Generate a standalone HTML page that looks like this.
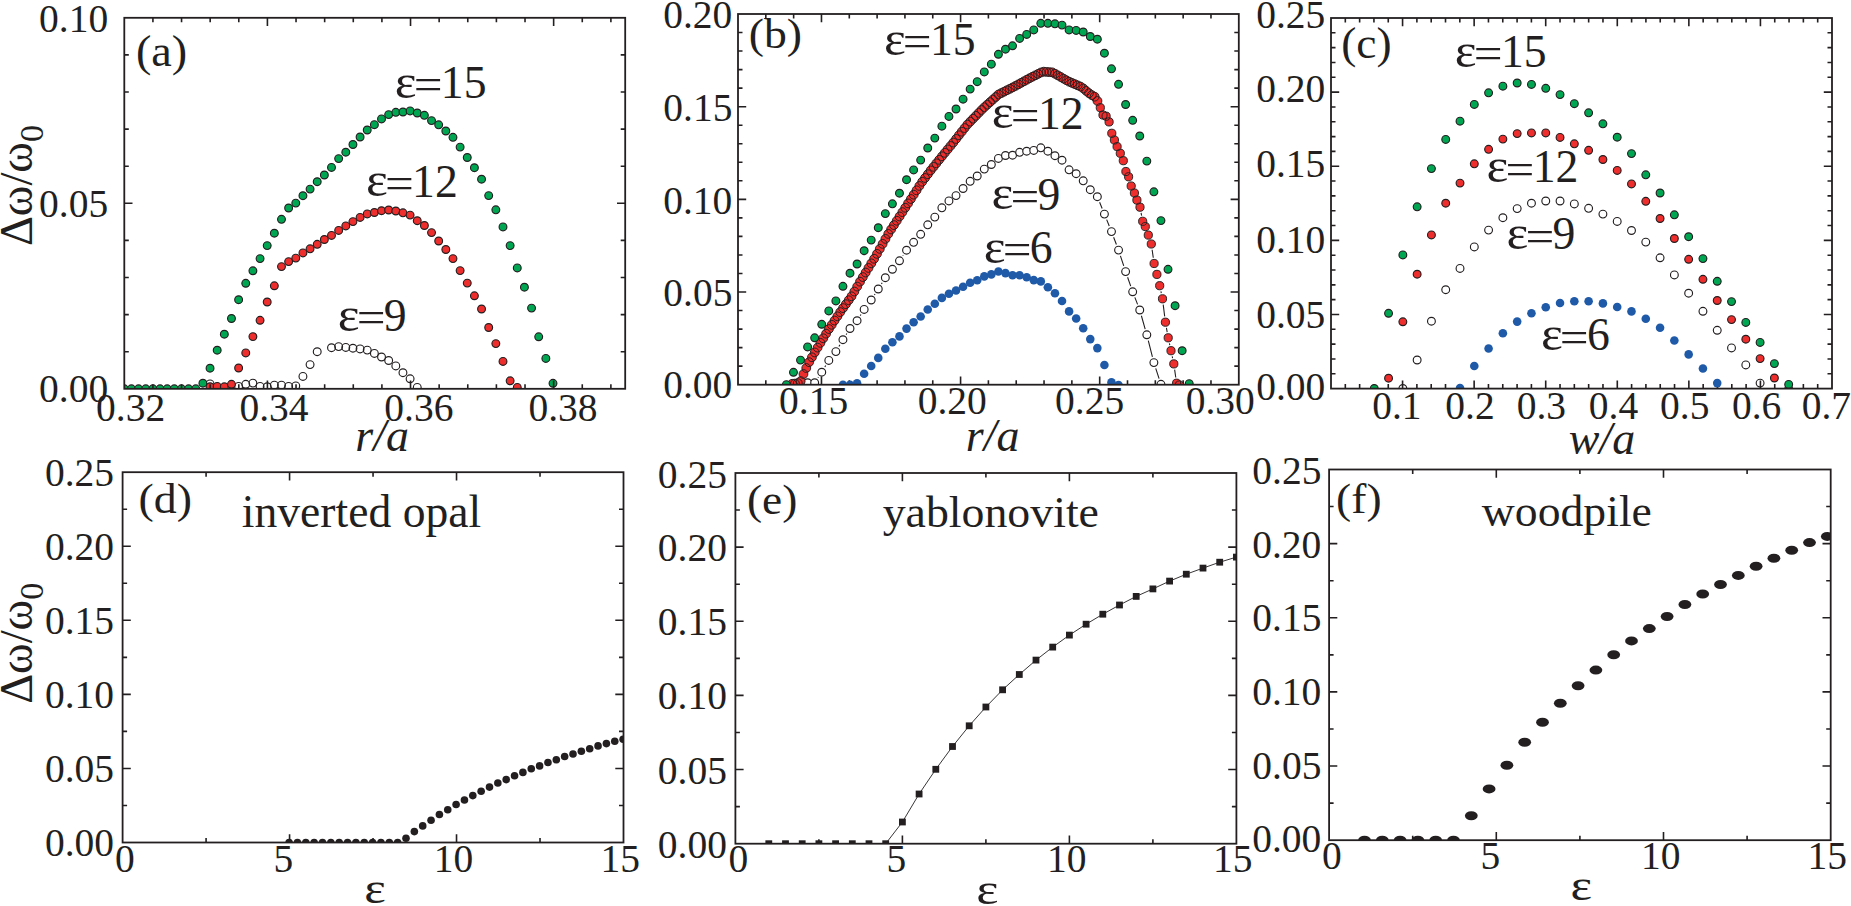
<!DOCTYPE html>
<html><head><meta charset="utf-8"><title>Figure</title>
<style>html,body{margin:0;padding:0;background:#fff;}svg{display:block;}</style></head>
<body><svg width="1851" height="906" viewBox="0 0 1851 906">
<rect width="1851" height="906" fill="#fff"/>
<clipPath id="ca"><rect x="124.3" y="17.8" width="500.90000000000003" height="371.0"/></clipPath>
<g clip-path="url(#ca)" fill="none" stroke="#231f20" stroke-width="1.15">
<circle cx="210.04" cy="383.9" r="3.9"/>
<circle cx="238.62" cy="386.4" r="3.9"/>
<circle cx="245.76" cy="384.3" r="3.9"/>
<circle cx="252.91" cy="383.1" r="3.9"/>
<circle cx="260.06" cy="386.4" r="3.9"/>
<circle cx="267.2" cy="386.7" r="3.9"/>
<circle cx="274.34" cy="385.1" r="3.9"/>
<circle cx="281.49" cy="385.1" r="3.9"/>
<circle cx="288.63" cy="386.4" r="3.9"/>
<circle cx="295.78" cy="385.9" r="3.9"/>
<circle cx="302.93" cy="376.4" r="3.9"/>
<circle cx="310.07" cy="364.6" r="3.9"/>
<circle cx="317.21" cy="351.7" r="3.9"/>
<circle cx="331.5" cy="347.7" r="3.9"/>
<circle cx="338.65" cy="346.6" r="3.9"/>
<circle cx="345.79" cy="347.4" r="3.9"/>
<circle cx="352.94" cy="348.2" r="3.9"/>
<circle cx="360.08" cy="348.9" r="3.9"/>
<circle cx="367.23" cy="350.1" r="3.9"/>
<circle cx="374.38" cy="353.4" r="3.9"/>
<circle cx="381.52" cy="357" r="3.9"/>
<circle cx="388.67" cy="360.5" r="3.9"/>
<circle cx="395.81" cy="365.9" r="3.9"/>
<circle cx="402.95" cy="372.7" r="3.9"/>
<circle cx="410.1" cy="378.8" r="3.9"/>
<circle cx="417.25" cy="387.4" r="3.9"/>
</g>
<g clip-path="url(#ca)" fill="#ee2d2d" stroke="#231f20" stroke-width="1.15">
<circle cx="210.04" cy="386.7" r="3.9"/>
<circle cx="217.19" cy="386.4" r="3.9"/>
<circle cx="224.33" cy="386.8" r="3.9"/>
<circle cx="231.47" cy="384.3" r="3.9"/>
<circle cx="238.62" cy="368" r="3.9"/>
<circle cx="245.76" cy="352.9" r="3.9"/>
<circle cx="252.91" cy="336.6" r="3.9"/>
<circle cx="260.06" cy="320.3" r="3.9"/>
<circle cx="267.2" cy="302" r="3.9"/>
<circle cx="274.34" cy="285.8" r="3.9"/>
<circle cx="281.49" cy="266.6" r="3.9"/>
<circle cx="288.63" cy="261.6" r="3.9"/>
<circle cx="295.78" cy="258.1" r="3.9"/>
<circle cx="302.93" cy="252.9" r="3.9"/>
<circle cx="310.07" cy="248.8" r="3.9"/>
<circle cx="317.21" cy="244.3" r="3.9"/>
<circle cx="324.36" cy="239.5" r="3.9"/>
<circle cx="331.5" cy="235.4" r="3.9"/>
<circle cx="338.65" cy="230.4" r="3.9"/>
<circle cx="345.79" cy="225.9" r="3.9"/>
<circle cx="352.94" cy="221.6" r="3.9"/>
<circle cx="360.08" cy="217.4" r="3.9"/>
<circle cx="367.23" cy="213.9" r="3.9"/>
<circle cx="374.38" cy="212.5" r="3.9"/>
<circle cx="381.52" cy="210.7" r="3.9"/>
<circle cx="388.67" cy="210" r="3.9"/>
<circle cx="395.81" cy="211" r="3.9"/>
<circle cx="402.95" cy="212.8" r="3.9"/>
<circle cx="410.1" cy="215.1" r="3.9"/>
<circle cx="417.25" cy="220.7" r="3.9"/>
<circle cx="424.39" cy="225.5" r="3.9"/>
<circle cx="431.53" cy="232.6" r="3.9"/>
<circle cx="438.68" cy="241" r="3.9"/>
<circle cx="445.82" cy="249.5" r="3.9"/>
<circle cx="452.97" cy="258.6" r="3.9"/>
<circle cx="460.12" cy="270.6" r="3.9"/>
<circle cx="467.26" cy="283.1" r="3.9"/>
<circle cx="474.4" cy="295.8" r="3.9"/>
<circle cx="481.55" cy="309" r="3.9"/>
<circle cx="488.69" cy="327.5" r="3.9"/>
<circle cx="495.84" cy="343.6" r="3.9"/>
<circle cx="502.99" cy="361.4" r="3.9"/>
<circle cx="510.13" cy="380.8" r="3.9"/>
<circle cx="517.27" cy="387.4" r="3.9"/>
</g>
<g clip-path="url(#ca)" fill="#00a651" stroke="#231f20" stroke-width="1.15">
<circle cx="124.3" cy="388.8" r="3.9"/>
<circle cx="131.44" cy="388.8" r="3.9"/>
<circle cx="138.59" cy="388.8" r="3.9"/>
<circle cx="145.73" cy="388.8" r="3.9"/>
<circle cx="152.88" cy="388.8" r="3.9"/>
<circle cx="160.02" cy="388.8" r="3.9"/>
<circle cx="167.17" cy="388.8" r="3.9"/>
<circle cx="174.31" cy="388.8" r="3.9"/>
<circle cx="181.46" cy="388.8" r="3.9"/>
<circle cx="188.6" cy="388.8" r="3.9"/>
<circle cx="195.75" cy="388.8" r="3.9"/>
<circle cx="202.89" cy="383.2" r="3.9"/>
<circle cx="210.04" cy="368.2" r="3.9"/>
<circle cx="217.19" cy="350.2" r="3.9"/>
<circle cx="224.33" cy="334.2" r="3.9"/>
<circle cx="231.47" cy="318.5" r="3.9"/>
<circle cx="238.62" cy="299.7" r="3.9"/>
<circle cx="245.76" cy="283.3" r="3.9"/>
<circle cx="252.91" cy="270.8" r="3.9"/>
<circle cx="260.06" cy="258.6" r="3.9"/>
<circle cx="267.2" cy="245.6" r="3.9"/>
<circle cx="274.34" cy="233.2" r="3.9"/>
<circle cx="281.49" cy="219.3" r="3.9"/>
<circle cx="288.63" cy="208" r="3.9"/>
<circle cx="295.78" cy="203.1" r="3.9"/>
<circle cx="302.93" cy="195.7" r="3.9"/>
<circle cx="310.07" cy="189.1" r="3.9"/>
<circle cx="317.21" cy="181.7" r="3.9"/>
<circle cx="324.36" cy="175" r="3.9"/>
<circle cx="331.5" cy="167.4" r="3.9"/>
<circle cx="338.65" cy="158.6" r="3.9"/>
<circle cx="345.79" cy="152.2" r="3.9"/>
<circle cx="352.94" cy="144.5" r="3.9"/>
<circle cx="360.08" cy="137" r="3.9"/>
<circle cx="367.23" cy="130" r="3.9"/>
<circle cx="374.38" cy="124.7" r="3.9"/>
<circle cx="381.52" cy="118.9" r="3.9"/>
<circle cx="388.67" cy="114.6" r="3.9"/>
<circle cx="395.81" cy="112.3" r="3.9"/>
<circle cx="402.95" cy="112" r="3.9"/>
<circle cx="410.1" cy="110.9" r="3.9"/>
<circle cx="417.25" cy="113" r="3.9"/>
<circle cx="424.39" cy="115.3" r="3.9"/>
<circle cx="431.53" cy="120.6" r="3.9"/>
<circle cx="438.68" cy="124.8" r="3.9"/>
<circle cx="445.82" cy="131" r="3.9"/>
<circle cx="452.97" cy="137.3" r="3.9"/>
<circle cx="460.12" cy="147.1" r="3.9"/>
<circle cx="467.26" cy="157.5" r="3.9"/>
<circle cx="474.4" cy="167.7" r="3.9"/>
<circle cx="481.55" cy="179.2" r="3.9"/>
<circle cx="488.69" cy="195.6" r="3.9"/>
<circle cx="495.84" cy="209.8" r="3.9"/>
<circle cx="502.99" cy="226.9" r="3.9"/>
<circle cx="510.13" cy="245.6" r="3.9"/>
<circle cx="517.27" cy="267.9" r="3.9"/>
<circle cx="524.42" cy="287.2" r="3.9"/>
<circle cx="531.56" cy="308.1" r="3.9"/>
<circle cx="538.71" cy="336.8" r="3.9"/>
<circle cx="545.85" cy="358.4" r="3.9"/>
<circle cx="553" cy="383.3" r="3.9"/>
</g>
<path d="M267.41 388.8v-8.2M267.41 17.8v8.2M410.53 388.8v-8.2M410.53 17.8v8.2M553.64 388.8v-8.2M553.64 17.8v8.2M152.92 388.8v-4.5M152.92 17.8v4.5M181.55 388.8v-4.5M181.55 17.8v4.5M210.17 388.8v-4.5M210.17 17.8v4.5M238.79 388.8v-4.5M238.79 17.8v4.5M267.41 388.8v-8.2M267.41 17.8v8.2M296.04 388.8v-4.5M296.04 17.8v4.5M324.66 388.8v-4.5M324.66 17.8v4.5M353.28 388.8v-4.5M353.28 17.8v4.5M381.91 388.8v-4.5M381.91 17.8v4.5M410.53 388.8v-8.2M410.53 17.8v8.2M439.15 388.8v-4.5M439.15 17.8v4.5M467.77 388.8v-4.5M467.77 17.8v4.5M496.4 388.8v-4.5M496.4 17.8v4.5M525.02 388.8v-4.5M525.02 17.8v4.5M553.64 388.8v-8.2M553.64 17.8v8.2M582.27 388.8v-4.5M582.27 17.8v4.5M610.89 388.8v-4.5M610.89 17.8v4.5M124.3 203.3h8.2M625.2 203.3h-8.2M124.3 351.7h4.5M625.2 351.7h-4.5M124.3 314.6h4.5M625.2 314.6h-4.5M124.3 277.5h4.5M625.2 277.5h-4.5M124.3 240.4h4.5M625.2 240.4h-4.5M124.3 203.3h8.2M625.2 203.3h-8.2M124.3 166.2h4.5M625.2 166.2h-4.5M124.3 129.1h4.5M625.2 129.1h-4.5M124.3 92h4.5M625.2 92h-4.5M124.3 54.9h4.5M625.2 54.9h-4.5" stroke="#231f20" stroke-width="1.6" fill="none"/>
<rect x="124.3" y="17.8" width="500.90000000000003" height="371.0" stroke="#231f20" stroke-width="1.8" fill="none"/>
<text x="39.04" y="32.15" style="font-family:'Liberation Serif', 'Times New Roman', serif;font-size:39.5px;" fill="#231f20" >0.10</text>
<text x="39.06" y="216.6" style="font-family:'Liberation Serif', 'Times New Roman', serif;font-size:39.5px;" fill="#231f20" >0.05</text>
<text x="39.04" y="401.55" style="font-family:'Liberation Serif', 'Times New Roman', serif;font-size:39.5px;" fill="#231f20" >0.00</text>
<text x="96.08" y="421.05" style="font-family:'Liberation Serif', 'Times New Roman', serif;font-size:39.5px;" fill="#231f20" >0.32</text>
<text x="239.49" y="421.05" style="font-family:'Liberation Serif', 'Times New Roman', serif;font-size:39.5px;" fill="#231f20" >0.34</text>
<text x="384.37" y="421.05" style="font-family:'Liberation Serif', 'Times New Roman', serif;font-size:39.5px;" fill="#231f20" >0.36</text>
<text x="528.44" y="421.05" style="font-family:'Liberation Serif', 'Times New Roman', serif;font-size:39.5px;" fill="#231f20" >0.38</text>
<text x="355.29" y="450.83" style="font-family:'Liberation Serif', 'Times New Roman', serif;font-size:46px;font-style:italic;" fill="#231f20" >r/a</text>
<text transform="translate(31.9,246.07) rotate(-90)" style="font-family:'Liberation Serif', 'Times New Roman', serif;font-size:46.5px" fill="#231f20">Δω/ω<tspan style="font-size:34px" dy="11">0</tspan></text>
<text transform="translate(135.92,66.27) scale(1.0117,0.9484)" style="font-family:'Liberation Serif', 'Times New Roman', serif;font-size:45.7px;" fill="#231f20">(a)</text>
<text transform="translate(394.7,97.52) scale(1.049,1)" style="font-family:'Liberation Serif', 'Times New Roman', serif;font-size:49.48px" fill="#231f20">ε</text>
<text transform="translate(413.65,100.27) scale(1.119,1)" style="font-family:'Liberation Serif', 'Times New Roman', serif;font-size:45.7px" fill="#231f20">=</text>
<text x="440.8" y="98" style="font-family:'Liberation Serif', 'Times New Roman', serif;font-size:45.7px" fill="#231f20">15</text>
<text transform="translate(366,196.02) scale(1.049,1)" style="font-family:'Liberation Serif', 'Times New Roman', serif;font-size:49.48px" fill="#231f20">ε</text>
<text transform="translate(384.95,198.77) scale(1.119,1)" style="font-family:'Liberation Serif', 'Times New Roman', serif;font-size:45.7px" fill="#231f20">=</text>
<text x="412.1" y="196.5" style="font-family:'Liberation Serif', 'Times New Roman', serif;font-size:45.7px" fill="#231f20">12</text>
<text transform="translate(337.7,330.52) scale(1.049,1)" style="font-family:'Liberation Serif', 'Times New Roman', serif;font-size:49.48px" fill="#231f20">ε</text>
<text transform="translate(356.65,333.27) scale(1.119,1)" style="font-family:'Liberation Serif', 'Times New Roman', serif;font-size:45.7px" fill="#231f20">=</text>
<text x="383.8" y="331" style="font-family:'Liberation Serif', 'Times New Roman', serif;font-size:45.7px" fill="#231f20">9</text>
<clipPath id="cb"><rect x="738.0" y="14.0" width="500.79999999999995" height="370.7"/></clipPath>
<path d="M821.47 384.7v-8.2M821.47 14v8.2M960.58 384.7v-8.2M960.58 14v8.2M1099.69 384.7v-8.2M1099.69 14v8.2M765.82 384.7v-4.5M765.82 14v4.5M793.64 384.7v-4.5M793.64 14v4.5M821.47 384.7v-8.2M821.47 14v8.2M849.29 384.7v-4.5M849.29 14v4.5M877.11 384.7v-4.5M877.11 14v4.5M904.93 384.7v-4.5M904.93 14v4.5M932.76 384.7v-4.5M932.76 14v4.5M960.58 384.7v-8.2M960.58 14v8.2M988.4 384.7v-4.5M988.4 14v4.5M1016.22 384.7v-4.5M1016.22 14v4.5M1044.04 384.7v-4.5M1044.04 14v4.5M1071.87 384.7v-4.5M1071.87 14v4.5M1099.69 384.7v-8.2M1099.69 14v8.2M1127.51 384.7v-4.5M1127.51 14v4.5M1155.33 384.7v-4.5M1155.33 14v4.5M1183.16 384.7v-4.5M1183.16 14v4.5M1210.98 384.7v-4.5M1210.98 14v4.5M738 292.02h8.2M1238.8 292.02h-8.2M738 199.35h8.2M1238.8 199.35h-8.2M738 106.68h8.2M1238.8 106.68h-8.2M738 366.16h4.5M1238.8 366.16h-4.5M738 347.63h4.5M1238.8 347.63h-4.5M738 329.09h4.5M1238.8 329.09h-4.5M738 310.56h4.5M1238.8 310.56h-4.5M738 292.02h8.2M1238.8 292.02h-8.2M738 273.49h4.5M1238.8 273.49h-4.5M738 254.95h4.5M1238.8 254.95h-4.5M738 236.42h4.5M1238.8 236.42h-4.5M738 217.89h4.5M1238.8 217.89h-4.5M738 199.35h8.2M1238.8 199.35h-8.2M738 180.82h4.5M1238.8 180.82h-4.5M738 162.28h4.5M1238.8 162.28h-4.5M738 143.74h4.5M1238.8 143.74h-4.5M738 125.21h4.5M1238.8 125.21h-4.5M738 106.68h8.2M1238.8 106.68h-8.2M738 88.14h4.5M1238.8 88.14h-4.5M738 69.61h4.5M1238.8 69.61h-4.5M738 51.07h4.5M1238.8 51.07h-4.5M738 32.54h4.5M1238.8 32.54h-4.5" stroke="#231f20" stroke-width="1.6" fill="none"/>
<path clip-path="url(#cb)" d="M818.02 377.72L818.38 377.18M824.82 367.05L825.72 365.55M838.93 346.44L839.87 344.86M846.14 334.63L846.8 333.57M860.25 315.61L860.96 314.49M874.45 294.95L875.03 294.05M881.45 283.91L882.16 282.79M902.8 255.81L903.21 255.19M1099.61 202.26L1102.16 208.54M1106.66 219.66L1109.24 226.04M1113.62 237.2L1116.41 244.5M1120.42 255.8L1123.74 265.9M1127.6 277.26L1130.7 286.14M1134.85 297.39L1137.58 304.41M1141.39 315.77L1145.17 329.03M1148.3 340.62L1152.41 356.78M1155.74 368.31L1159.09 378.59" fill="none" stroke="#231f20" stroke-width="1.1"/>
<g clip-path="url(#cb)" fill="#fff" stroke="#231f20" stroke-width="1.15">
<circle cx="807.6" cy="382.7" r="3.9"/>
<circle cx="814.67" cy="382.7" r="3.9"/>
<circle cx="821.74" cy="372.2" r="3.9"/>
<circle cx="828.8" cy="360.4" r="3.9"/>
<circle cx="835.87" cy="351.6" r="3.9"/>
<circle cx="842.94" cy="339.7" r="3.9"/>
<circle cx="850" cy="328.5" r="3.9"/>
<circle cx="857.07" cy="320.7" r="3.9"/>
<circle cx="864.14" cy="309.4" r="3.9"/>
<circle cx="871.2" cy="300" r="3.9"/>
<circle cx="878.27" cy="289" r="3.9"/>
<circle cx="885.34" cy="277.7" r="3.9"/>
<circle cx="892.4" cy="269.3" r="3.9"/>
<circle cx="899.47" cy="260.8" r="3.9"/>
<circle cx="906.54" cy="250.2" r="3.9"/>
<circle cx="913.61" cy="242.3" r="3.9"/>
<circle cx="920.67" cy="234.3" r="3.9"/>
<circle cx="927.74" cy="224.8" r="3.9"/>
<circle cx="934.81" cy="217.1" r="3.9"/>
<circle cx="941.87" cy="207.8" r="3.9"/>
<circle cx="948.94" cy="200.9" r="3.9"/>
<circle cx="956.01" cy="195.6" r="3.9"/>
<circle cx="963.08" cy="188.5" r="3.9"/>
<circle cx="970.14" cy="181.3" r="3.9"/>
<circle cx="977.21" cy="176" r="3.9"/>
<circle cx="984.28" cy="169.1" r="3.9"/>
<circle cx="991.34" cy="164.5" r="3.9"/>
<circle cx="998.41" cy="158.4" r="3.9"/>
<circle cx="1005.48" cy="155.5" r="3.9"/>
<circle cx="1012.54" cy="155.2" r="3.9"/>
<circle cx="1019.61" cy="152.3" r="3.9"/>
<circle cx="1026.68" cy="151.2" r="3.9"/>
<circle cx="1033.74" cy="150.4" r="3.9"/>
<circle cx="1040.81" cy="147.8" r="3.9"/>
<circle cx="1047.88" cy="151.2" r="3.9"/>
<circle cx="1054.95" cy="155.7" r="3.9"/>
<circle cx="1062.01" cy="160.2" r="3.9"/>
<circle cx="1069.08" cy="169.8" r="3.9"/>
<circle cx="1076.15" cy="173.7" r="3.9"/>
<circle cx="1083.21" cy="180.8" r="3.9"/>
<circle cx="1090.28" cy="189.7" r="3.9"/>
<circle cx="1097.35" cy="196.7" r="3.9"/>
<circle cx="1104.41" cy="214.1" r="3.9"/>
<circle cx="1111.48" cy="231.6" r="3.9"/>
<circle cx="1118.55" cy="250.1" r="3.9"/>
<circle cx="1125.62" cy="271.6" r="3.9"/>
<circle cx="1132.68" cy="291.8" r="3.9"/>
<circle cx="1139.75" cy="310" r="3.9"/>
<circle cx="1146.82" cy="334.8" r="3.9"/>
<circle cx="1153.88" cy="362.6" r="3.9"/>
<circle cx="1160.95" cy="384.3" r="3.9"/>
</g>
<g clip-path="url(#cb)" fill="#1f5aa8">
<circle cx="842.94" cy="384.7" r="4.3"/>
<circle cx="850" cy="384.8" r="4.3"/>
<circle cx="857.07" cy="383.3" r="4.3"/>
<circle cx="864.14" cy="373.8" r="4.3"/>
<circle cx="871.2" cy="366" r="4.3"/>
<circle cx="878.27" cy="357.9" r="4.3"/>
<circle cx="885.34" cy="348.8" r="4.3"/>
<circle cx="892.4" cy="342.3" r="4.3"/>
<circle cx="899.47" cy="336.4" r="4.3"/>
<circle cx="906.54" cy="328.6" r="4.3"/>
<circle cx="913.61" cy="322.3" r="4.3"/>
<circle cx="920.67" cy="316.5" r="4.3"/>
<circle cx="927.74" cy="309.5" r="4.3"/>
<circle cx="934.81" cy="303.7" r="4.3"/>
<circle cx="941.87" cy="297.9" r="4.3"/>
<circle cx="948.94" cy="293.8" r="4.3"/>
<circle cx="956.01" cy="290.5" r="4.3"/>
<circle cx="963.08" cy="286.7" r="4.3"/>
<circle cx="970.14" cy="282.7" r="4.3"/>
<circle cx="977.21" cy="280.2" r="4.3"/>
<circle cx="984.28" cy="276.4" r="4.3"/>
<circle cx="991.34" cy="274.4" r="4.3"/>
<circle cx="998.41" cy="271.5" r="4.3"/>
<circle cx="1005.48" cy="273.1" r="4.3"/>
<circle cx="1012.54" cy="275.3" r="4.3"/>
<circle cx="1019.61" cy="275.3" r="4.3"/>
<circle cx="1026.68" cy="277.3" r="4.3"/>
<circle cx="1033.74" cy="280.1" r="4.3"/>
<circle cx="1040.81" cy="281.4" r="4.3"/>
<circle cx="1047.88" cy="287.2" r="4.3"/>
<circle cx="1054.95" cy="293.3" r="4.3"/>
<circle cx="1062.01" cy="301" r="4.3"/>
<circle cx="1069.08" cy="311.4" r="4.3"/>
<circle cx="1076.15" cy="318.5" r="4.3"/>
<circle cx="1083.21" cy="328.2" r="4.3"/>
<circle cx="1090.28" cy="339.1" r="4.3"/>
<circle cx="1097.35" cy="348.1" r="4.3"/>
<circle cx="1104.41" cy="365" r="4.3"/>
<circle cx="1111.48" cy="382.4" r="4.3"/>
<circle cx="1118.55" cy="385" r="4.3"/>
</g>
<path clip-path="url(#cb)" d="M1141.09 212.9L1141.61 215.6M1152.12 249.74L1153.28 257.76M1160.91 291.37L1161.29 293.13M1163.21 304.56L1164.69 316.44M1166.42 327.91L1167.18 332.09M1169.43 343.47L1169.77 345.03M1172.2 356.37L1172.6 358.23M1174.63 369.64L1175.77 377.46" fill="none" stroke="#231f20" stroke-width="1.1"/>
<g clip-path="url(#cb)" fill="#ee2d2d">
<circle cx="792.16" cy="383.79" r="4.4"/>
<circle cx="794.98" cy="383.56" r="4.4"/>
<circle cx="797.81" cy="383.16" r="4.4"/>
<circle cx="800.64" cy="381.13" r="4.4"/>
<circle cx="803.47" cy="374.03" r="4.4"/>
<circle cx="806.29" cy="368.02" r="4.4"/>
<circle cx="809.12" cy="362.17" r="4.4"/>
<circle cx="811.95" cy="357.27" r="4.4"/>
<circle cx="814.77" cy="352.43" r="4.4"/>
<circle cx="817.6" cy="347.6" r="4.4"/>
<circle cx="820.43" cy="342.88" r="4.4"/>
<circle cx="823.25" cy="338.28" r="4.4"/>
<circle cx="826.08" cy="333.68" r="4.4"/>
<circle cx="828.91" cy="329.08" r="4.4"/>
<circle cx="831.74" cy="324.8" r="4.4"/>
<circle cx="834.56" cy="320.56" r="4.4"/>
<circle cx="837.39" cy="316.32" r="4.4"/>
<circle cx="840.22" cy="312.08" r="4.4"/>
<circle cx="843.04" cy="308.13" r="4.4"/>
<circle cx="845.87" cy="304.19" r="4.4"/>
<circle cx="848.7" cy="300.25" r="4.4"/>
<circle cx="851.52" cy="296.3" r="4.4"/>
<circle cx="854.35" cy="291.55" r="4.4"/>
<circle cx="857.18" cy="286.58" r="4.4"/>
<circle cx="860.01" cy="281.68" r="4.4"/>
<circle cx="862.83" cy="277.1" r="4.4"/>
<circle cx="865.66" cy="272.52" r="4.4"/>
<circle cx="868.49" cy="267.93" r="4.4"/>
<circle cx="871.31" cy="263.35" r="4.4"/>
<circle cx="874.14" cy="258.77" r="4.4"/>
<circle cx="876.97" cy="253.87" r="4.4"/>
<circle cx="879.79" cy="248.88" r="4.4"/>
<circle cx="882.62" cy="243.89" r="4.4"/>
<circle cx="885.45" cy="238.9" r="4.4"/>
<circle cx="888.28" cy="233.9" r="4.4"/>
<circle cx="891.1" cy="229.43" r="4.4"/>
<circle cx="893.93" cy="225.1" r="4.4"/>
<circle cx="896.76" cy="220.77" r="4.4"/>
<circle cx="899.58" cy="216.45" r="4.4"/>
<circle cx="902.41" cy="212.12" r="4.4"/>
<circle cx="905.24" cy="207.79" r="4.4"/>
<circle cx="908.06" cy="203.42" r="4.4"/>
<circle cx="910.89" cy="199.04" r="4.4"/>
<circle cx="913.72" cy="194.67" r="4.4"/>
<circle cx="916.55" cy="190.3" r="4.4"/>
<circle cx="919.37" cy="185.93" r="4.4"/>
<circle cx="922.2" cy="181.76" r="4.4"/>
<circle cx="925.03" cy="177.99" r="4.4"/>
<circle cx="927.85" cy="174.21" r="4.4"/>
<circle cx="930.68" cy="170.43" r="4.4"/>
<circle cx="933.51" cy="166.86" r="4.4"/>
<circle cx="936.33" cy="163.34" r="4.4"/>
<circle cx="939.16" cy="159.82" r="4.4"/>
<circle cx="941.99" cy="156.31" r="4.4"/>
<circle cx="944.82" cy="152.84" r="4.4"/>
<circle cx="947.64" cy="149.42" r="4.4"/>
<circle cx="950.47" cy="145.99" r="4.4"/>
<circle cx="953.3" cy="142.55" r="4.4"/>
<circle cx="956.12" cy="138.93" r="4.4"/>
<circle cx="958.95" cy="135.31" r="4.4"/>
<circle cx="961.78" cy="131.69" r="4.4"/>
<circle cx="964.6" cy="128.07" r="4.4"/>
<circle cx="967.43" cy="124.56" r="4.4"/>
<circle cx="970.26" cy="121.64" r="4.4"/>
<circle cx="973.09" cy="118.73" r="4.4"/>
<circle cx="975.91" cy="115.81" r="4.4"/>
<circle cx="978.74" cy="112.9" r="4.4"/>
<circle cx="981.57" cy="109.98" r="4.4"/>
<circle cx="984.39" cy="107.22" r="4.4"/>
<circle cx="987.22" cy="104.67" r="4.4"/>
<circle cx="990.05" cy="102.12" r="4.4"/>
<circle cx="992.87" cy="99.57" r="4.4"/>
<circle cx="995.7" cy="97.02" r="4.4"/>
<circle cx="998.53" cy="94.46" r="4.4"/>
<circle cx="1001.36" cy="93.03" r="4.4"/>
<circle cx="1004.18" cy="91.63" r="4.4"/>
<circle cx="1007.01" cy="90.22" r="4.4"/>
<circle cx="1009.84" cy="88.82" r="4.4"/>
<circle cx="1012.66" cy="87.41" r="4.4"/>
<circle cx="1015.49" cy="85.94" r="4.4"/>
<circle cx="1018.32" cy="84.39" r="4.4"/>
<circle cx="1021.14" cy="82.84" r="4.4"/>
<circle cx="1023.97" cy="81.29" r="4.4"/>
<circle cx="1026.8" cy="79.74" r="4.4"/>
<circle cx="1029.62" cy="78.19" r="4.4"/>
<circle cx="1032.45" cy="76.76" r="4.4"/>
<circle cx="1035.28" cy="75.34" r="4.4"/>
<circle cx="1038.11" cy="73.91" r="4.4"/>
<circle cx="1040.93" cy="72.49" r="4.4"/>
<circle cx="1043.76" cy="71.68" r="4.4"/>
<circle cx="1046.59" cy="71.91" r="4.4"/>
<circle cx="1049.41" cy="72.14" r="4.4"/>
<circle cx="1052.24" cy="72.36" r="4.4"/>
<circle cx="1055.07" cy="73.76" r="4.4"/>
<circle cx="1057.89" cy="75.38" r="4.4"/>
<circle cx="1060.72" cy="77.01" r="4.4"/>
<circle cx="1063.55" cy="78.63" r="4.4"/>
<circle cx="1066.38" cy="80.25" r="4.4"/>
<circle cx="1069.2" cy="81.73" r="4.4"/>
<circle cx="1072.03" cy="82.93" r="4.4"/>
<circle cx="1074.86" cy="84.14" r="4.4"/>
<circle cx="1077.68" cy="85.34" r="4.4"/>
<circle cx="1080.51" cy="86.55" r="4.4"/>
<circle cx="1083.34" cy="88.43" r="4.4"/>
<circle cx="1086.16" cy="90.87" r="4.4"/>
<circle cx="1088.99" cy="93.18" r="4.4"/>
<circle cx="1091.82" cy="95.15" r="4.4"/>
<circle cx="1094.65" cy="96.65" r="4.4"/>
<circle cx="1097.47" cy="100.95" r="4.4"/>
<circle cx="1100.3" cy="107.7" r="4.1"/>
<circle cx="1103" cy="115" r="4.1"/>
<circle cx="1106.1" cy="116.2" r="4.1"/>
<circle cx="1109.1" cy="121.9" r="4.1"/>
<circle cx="1111.8" cy="133.3" r="4.1"/>
<circle cx="1114.4" cy="140" r="4.1"/>
<circle cx="1117.1" cy="146.6" r="4.1"/>
<circle cx="1120.3" cy="153.3" r="4.1"/>
<circle cx="1123.3" cy="160.7" r="4.1"/>
<circle cx="1125.9" cy="171.5" r="4.1"/>
<circle cx="1128.6" cy="176.8" r="4.1"/>
<circle cx="1131.2" cy="186" r="4.1"/>
<circle cx="1134.4" cy="193" r="4.1"/>
<circle cx="1136.9" cy="200.1" r="4.1"/>
<circle cx="1140" cy="207.2" r="4.1"/>
<circle cx="1142.7" cy="221.3" r="4.1"/>
<circle cx="1145.3" cy="226.6" r="4.1"/>
<circle cx="1148.3" cy="235.1" r="4.1"/>
<circle cx="1151.3" cy="244" r="4.1"/>
<circle cx="1154.1" cy="263.5" r="4.1"/>
<circle cx="1156.9" cy="274.4" r="4.1"/>
<circle cx="1159.7" cy="285.7" r="4.1"/>
<circle cx="1162.5" cy="298.8" r="4.1"/>
<circle cx="1165.4" cy="322.2" r="4.1"/>
<circle cx="1168.2" cy="337.8" r="4.1"/>
<circle cx="1171" cy="350.7" r="4.1"/>
<circle cx="1173.8" cy="363.9" r="4.1"/>
<circle cx="1176.6" cy="383.2" r="4.1"/>
<circle cx="1179.4" cy="385" r="4.1"/>
</g>
<g clip-path="url(#cb)" fill="none" stroke="#231f20" stroke-width="0.95">
<circle cx="792.16" cy="383.79" r="4.4"/>
<circle cx="794.98" cy="383.56" r="4.4"/>
<circle cx="797.81" cy="383.16" r="4.4"/>
<circle cx="800.64" cy="381.13" r="4.4"/>
<circle cx="803.47" cy="374.03" r="4.4"/>
<circle cx="806.29" cy="368.02" r="4.4"/>
<circle cx="809.12" cy="362.17" r="4.4"/>
<circle cx="811.95" cy="357.27" r="4.4"/>
<circle cx="814.77" cy="352.43" r="4.4"/>
<circle cx="817.6" cy="347.6" r="4.4"/>
<circle cx="820.43" cy="342.88" r="4.4"/>
<circle cx="823.25" cy="338.28" r="4.4"/>
<circle cx="826.08" cy="333.68" r="4.4"/>
<circle cx="828.91" cy="329.08" r="4.4"/>
<circle cx="831.74" cy="324.8" r="4.4"/>
<circle cx="834.56" cy="320.56" r="4.4"/>
<circle cx="837.39" cy="316.32" r="4.4"/>
<circle cx="840.22" cy="312.08" r="4.4"/>
<circle cx="843.04" cy="308.13" r="4.4"/>
<circle cx="845.87" cy="304.19" r="4.4"/>
<circle cx="848.7" cy="300.25" r="4.4"/>
<circle cx="851.52" cy="296.3" r="4.4"/>
<circle cx="854.35" cy="291.55" r="4.4"/>
<circle cx="857.18" cy="286.58" r="4.4"/>
<circle cx="860.01" cy="281.68" r="4.4"/>
<circle cx="862.83" cy="277.1" r="4.4"/>
<circle cx="865.66" cy="272.52" r="4.4"/>
<circle cx="868.49" cy="267.93" r="4.4"/>
<circle cx="871.31" cy="263.35" r="4.4"/>
<circle cx="874.14" cy="258.77" r="4.4"/>
<circle cx="876.97" cy="253.87" r="4.4"/>
<circle cx="879.79" cy="248.88" r="4.4"/>
<circle cx="882.62" cy="243.89" r="4.4"/>
<circle cx="885.45" cy="238.9" r="4.4"/>
<circle cx="888.28" cy="233.9" r="4.4"/>
<circle cx="891.1" cy="229.43" r="4.4"/>
<circle cx="893.93" cy="225.1" r="4.4"/>
<circle cx="896.76" cy="220.77" r="4.4"/>
<circle cx="899.58" cy="216.45" r="4.4"/>
<circle cx="902.41" cy="212.12" r="4.4"/>
<circle cx="905.24" cy="207.79" r="4.4"/>
<circle cx="908.06" cy="203.42" r="4.4"/>
<circle cx="910.89" cy="199.04" r="4.4"/>
<circle cx="913.72" cy="194.67" r="4.4"/>
<circle cx="916.55" cy="190.3" r="4.4"/>
<circle cx="919.37" cy="185.93" r="4.4"/>
<circle cx="922.2" cy="181.76" r="4.4"/>
<circle cx="925.03" cy="177.99" r="4.4"/>
<circle cx="927.85" cy="174.21" r="4.4"/>
<circle cx="930.68" cy="170.43" r="4.4"/>
<circle cx="933.51" cy="166.86" r="4.4"/>
<circle cx="936.33" cy="163.34" r="4.4"/>
<circle cx="939.16" cy="159.82" r="4.4"/>
<circle cx="941.99" cy="156.31" r="4.4"/>
<circle cx="944.82" cy="152.84" r="4.4"/>
<circle cx="947.64" cy="149.42" r="4.4"/>
<circle cx="950.47" cy="145.99" r="4.4"/>
<circle cx="953.3" cy="142.55" r="4.4"/>
<circle cx="956.12" cy="138.93" r="4.4"/>
<circle cx="958.95" cy="135.31" r="4.4"/>
<circle cx="961.78" cy="131.69" r="4.4"/>
<circle cx="964.6" cy="128.07" r="4.4"/>
<circle cx="967.43" cy="124.56" r="4.4"/>
<circle cx="970.26" cy="121.64" r="4.4"/>
<circle cx="973.09" cy="118.73" r="4.4"/>
<circle cx="975.91" cy="115.81" r="4.4"/>
<circle cx="978.74" cy="112.9" r="4.4"/>
<circle cx="981.57" cy="109.98" r="4.4"/>
<circle cx="984.39" cy="107.22" r="4.4"/>
<circle cx="987.22" cy="104.67" r="4.4"/>
<circle cx="990.05" cy="102.12" r="4.4"/>
<circle cx="992.87" cy="99.57" r="4.4"/>
<circle cx="995.7" cy="97.02" r="4.4"/>
<circle cx="998.53" cy="94.46" r="4.4"/>
<circle cx="1001.36" cy="93.03" r="4.4"/>
<circle cx="1004.18" cy="91.63" r="4.4"/>
<circle cx="1007.01" cy="90.22" r="4.4"/>
<circle cx="1009.84" cy="88.82" r="4.4"/>
<circle cx="1012.66" cy="87.41" r="4.4"/>
<circle cx="1015.49" cy="85.94" r="4.4"/>
<circle cx="1018.32" cy="84.39" r="4.4"/>
<circle cx="1021.14" cy="82.84" r="4.4"/>
<circle cx="1023.97" cy="81.29" r="4.4"/>
<circle cx="1026.8" cy="79.74" r="4.4"/>
<circle cx="1029.62" cy="78.19" r="4.4"/>
<circle cx="1032.45" cy="76.76" r="4.4"/>
<circle cx="1035.28" cy="75.34" r="4.4"/>
<circle cx="1038.11" cy="73.91" r="4.4"/>
<circle cx="1040.93" cy="72.49" r="4.4"/>
<circle cx="1043.76" cy="71.68" r="4.4"/>
<circle cx="1046.59" cy="71.91" r="4.4"/>
<circle cx="1049.41" cy="72.14" r="4.4"/>
<circle cx="1052.24" cy="72.36" r="4.4"/>
<circle cx="1055.07" cy="73.76" r="4.4"/>
<circle cx="1057.89" cy="75.38" r="4.4"/>
<circle cx="1060.72" cy="77.01" r="4.4"/>
<circle cx="1063.55" cy="78.63" r="4.4"/>
<circle cx="1066.38" cy="80.25" r="4.4"/>
<circle cx="1069.2" cy="81.73" r="4.4"/>
<circle cx="1072.03" cy="82.93" r="4.4"/>
<circle cx="1074.86" cy="84.14" r="4.4"/>
<circle cx="1077.68" cy="85.34" r="4.4"/>
<circle cx="1080.51" cy="86.55" r="4.4"/>
<circle cx="1083.34" cy="88.43" r="4.4"/>
<circle cx="1086.16" cy="90.87" r="4.4"/>
<circle cx="1088.99" cy="93.18" r="4.4"/>
<circle cx="1091.82" cy="95.15" r="4.4"/>
<circle cx="1094.65" cy="96.65" r="4.4"/>
<circle cx="1097.47" cy="100.95" r="4.4"/>
<circle cx="1100.3" cy="107.7" r="4.1"/>
<circle cx="1103" cy="115" r="4.1"/>
<circle cx="1106.1" cy="116.2" r="4.1"/>
<circle cx="1109.1" cy="121.9" r="4.1"/>
<circle cx="1111.8" cy="133.3" r="4.1"/>
<circle cx="1114.4" cy="140" r="4.1"/>
<circle cx="1117.1" cy="146.6" r="4.1"/>
<circle cx="1120.3" cy="153.3" r="4.1"/>
<circle cx="1123.3" cy="160.7" r="4.1"/>
<circle cx="1125.9" cy="171.5" r="4.1"/>
<circle cx="1128.6" cy="176.8" r="4.1"/>
<circle cx="1131.2" cy="186" r="4.1"/>
<circle cx="1134.4" cy="193" r="4.1"/>
<circle cx="1136.9" cy="200.1" r="4.1"/>
<circle cx="1140" cy="207.2" r="4.1"/>
<circle cx="1142.7" cy="221.3" r="4.1"/>
<circle cx="1145.3" cy="226.6" r="4.1"/>
<circle cx="1148.3" cy="235.1" r="4.1"/>
<circle cx="1151.3" cy="244" r="4.1"/>
<circle cx="1154.1" cy="263.5" r="4.1"/>
<circle cx="1156.9" cy="274.4" r="4.1"/>
<circle cx="1159.7" cy="285.7" r="4.1"/>
<circle cx="1162.5" cy="298.8" r="4.1"/>
<circle cx="1165.4" cy="322.2" r="4.1"/>
<circle cx="1168.2" cy="337.8" r="4.1"/>
<circle cx="1171" cy="350.7" r="4.1"/>
<circle cx="1173.8" cy="363.9" r="4.1"/>
<circle cx="1176.6" cy="383.2" r="4.1"/>
<circle cx="1179.4" cy="385" r="4.1"/>
</g>
<g clip-path="url(#cb)" fill="#00a651" stroke="#231f20" stroke-width="1.15">
<circle cx="786.4" cy="384.6" r="3.9"/>
<circle cx="793.47" cy="372.3" r="3.9"/>
<circle cx="800.53" cy="360.1" r="3.9"/>
<circle cx="807.6" cy="346.9" r="3.9"/>
<circle cx="814.67" cy="337.8" r="3.9"/>
<circle cx="821.74" cy="324.3" r="3.9"/>
<circle cx="828.8" cy="310.9" r="3.9"/>
<circle cx="835.87" cy="300.9" r="3.9"/>
<circle cx="842.94" cy="286.3" r="3.9"/>
<circle cx="850" cy="273.2" r="3.9"/>
<circle cx="857.07" cy="264" r="3.9"/>
<circle cx="864.14" cy="250.7" r="3.9"/>
<circle cx="871.2" cy="240.1" r="3.9"/>
<circle cx="878.27" cy="227.7" r="3.9"/>
<circle cx="885.34" cy="213.6" r="3.9"/>
<circle cx="892.4" cy="203.8" r="3.9"/>
<circle cx="899.47" cy="193.2" r="3.9"/>
<circle cx="906.54" cy="179.7" r="3.9"/>
<circle cx="913.61" cy="169.9" r="3.9"/>
<circle cx="920.67" cy="160.1" r="3.9"/>
<circle cx="927.74" cy="148" r="3.9"/>
<circle cx="934.81" cy="138.1" r="3.9"/>
<circle cx="941.87" cy="126.2" r="3.9"/>
<circle cx="948.94" cy="116.4" r="3.9"/>
<circle cx="956.01" cy="109" r="3.9"/>
<circle cx="963.08" cy="99.2" r="3.9"/>
<circle cx="970.14" cy="89.1" r="3.9"/>
<circle cx="977.21" cy="81.7" r="3.9"/>
<circle cx="984.28" cy="71.9" r="3.9"/>
<circle cx="991.34" cy="64.2" r="3.9"/>
<circle cx="998.41" cy="54.3" r="3.9"/>
<circle cx="1005.48" cy="49.2" r="3.9"/>
<circle cx="1012.54" cy="45.8" r="3.9"/>
<circle cx="1019.61" cy="38.4" r="3.9"/>
<circle cx="1026.68" cy="34.4" r="3.9"/>
<circle cx="1033.74" cy="29.9" r="3.9"/>
<circle cx="1040.81" cy="23.3" r="3.9"/>
<circle cx="1047.88" cy="23.3" r="3.9"/>
<circle cx="1054.95" cy="23.8" r="3.9"/>
<circle cx="1062.01" cy="25.1" r="3.9"/>
<circle cx="1069.08" cy="29.9" r="3.9"/>
<circle cx="1076.15" cy="30.4" r="3.9"/>
<circle cx="1083.21" cy="32" r="3.9"/>
<circle cx="1090.28" cy="36.5" r="3.9"/>
<circle cx="1097.35" cy="39.2" r="3.9"/>
<circle cx="1104.41" cy="53.2" r="3.9"/>
<circle cx="1111.48" cy="68.8" r="3.9"/>
<circle cx="1118.55" cy="84.3" r="3.9"/>
<circle cx="1125.62" cy="104.5" r="3.9"/>
<circle cx="1132.68" cy="120.3" r="3.9"/>
<circle cx="1139.75" cy="136" r="3.9"/>
<circle cx="1146.82" cy="161.1" r="3.9"/>
<circle cx="1153.88" cy="191.8" r="3.9"/>
<circle cx="1160.95" cy="220.6" r="3.9"/>
<circle cx="1168.02" cy="269.3" r="3.9"/>
<circle cx="1175.09" cy="305.7" r="3.9"/>
<circle cx="1182.15" cy="350.7" r="3.9"/>
<circle cx="1189.22" cy="383.6" r="3.9"/>
</g>
<rect x="738.0" y="14.0" width="500.79999999999995" height="370.7" stroke="#231f20" stroke-width="1.8" fill="none"/>
<text x="663.24" y="28.25" style="font-family:'Liberation Serif', 'Times New Roman', serif;font-size:39.5px;" fill="#231f20" >0.20</text>
<text x="663.26" y="120.85" style="font-family:'Liberation Serif', 'Times New Roman', serif;font-size:39.5px;" fill="#231f20" >0.15</text>
<text x="663.24" y="213.75" style="font-family:'Liberation Serif', 'Times New Roman', serif;font-size:39.5px;" fill="#231f20" >0.10</text>
<text x="663.26" y="305.75" style="font-family:'Liberation Serif', 'Times New Roman', serif;font-size:39.5px;" fill="#231f20" >0.05</text>
<text x="663.24" y="397.85" style="font-family:'Liberation Serif', 'Times New Roman', serif;font-size:39.5px;" fill="#231f20" >0.00</text>
<text x="779.06" y="414.05" style="font-family:'Liberation Serif', 'Times New Roman', serif;font-size:39.5px;" fill="#231f20" >0.15</text>
<text x="917.74" y="414.05" style="font-family:'Liberation Serif', 'Times New Roman', serif;font-size:39.5px;" fill="#231f20" >0.20</text>
<text x="1055.06" y="414.05" style="font-family:'Liberation Serif', 'Times New Roman', serif;font-size:39.5px;" fill="#231f20" >0.25</text>
<text x="1185.64" y="414.05" style="font-family:'Liberation Serif', 'Times New Roman', serif;font-size:39.5px;" fill="#231f20" >0.30</text>
<text x="965.79" y="450.93" style="font-family:'Liberation Serif', 'Times New Roman', serif;font-size:46px;font-style:italic;" fill="#231f20" >r/a</text>
<text transform="translate(748.79,48.1) scale(1.0006,0.9460)" style="font-family:'Liberation Serif', 'Times New Roman', serif;font-size:45.7px;" fill="#231f20">(b)</text>
<text transform="translate(883.9,54.72) scale(1.049,1)" style="font-family:'Liberation Serif', 'Times New Roman', serif;font-size:49.48px" fill="#231f20">ε</text>
<text transform="translate(902.85,57.47) scale(1.119,1)" style="font-family:'Liberation Serif', 'Times New Roman', serif;font-size:45.7px" fill="#231f20">=</text>
<text x="930" y="55.2" style="font-family:'Liberation Serif', 'Times New Roman', serif;font-size:45.7px" fill="#231f20">15</text>
<text transform="translate(991.8,128.32) scale(1.049,1)" style="font-family:'Liberation Serif', 'Times New Roman', serif;font-size:49.48px" fill="#231f20">ε</text>
<text transform="translate(1010.75,131.07) scale(1.119,1)" style="font-family:'Liberation Serif', 'Times New Roman', serif;font-size:45.7px" fill="#231f20">=</text>
<text x="1037.9" y="128.8" style="font-family:'Liberation Serif', 'Times New Roman', serif;font-size:45.7px" fill="#231f20">12</text>
<text transform="translate(991.5,209.02) scale(1.049,1)" style="font-family:'Liberation Serif', 'Times New Roman', serif;font-size:49.48px" fill="#231f20">ε</text>
<text transform="translate(1010.45,211.77) scale(1.119,1)" style="font-family:'Liberation Serif', 'Times New Roman', serif;font-size:45.7px" fill="#231f20">=</text>
<text x="1037.6" y="209.5" style="font-family:'Liberation Serif', 'Times New Roman', serif;font-size:45.7px" fill="#231f20">9</text>
<text transform="translate(983.7,262.52) scale(1.049,1)" style="font-family:'Liberation Serif', 'Times New Roman', serif;font-size:49.48px" fill="#231f20">ε</text>
<text transform="translate(1002.65,265.27) scale(1.119,1)" style="font-family:'Liberation Serif', 'Times New Roman', serif;font-size:45.7px" fill="#231f20">=</text>
<text x="1029.8" y="263" style="font-family:'Liberation Serif', 'Times New Roman', serif;font-size:45.7px" fill="#231f20">6</text>
<clipPath id="cc"><rect x="1331.0" y="18.0" width="501.0" height="370.6"/></clipPath>
<path d="M1402.57 388.6v-8.2M1402.57 18v8.2M1474.14 388.6v-8.2M1474.14 18v8.2M1545.71 388.6v-8.2M1545.71 18v8.2M1617.29 388.6v-8.2M1617.29 18v8.2M1688.86 388.6v-8.2M1688.86 18v8.2M1760.43 388.6v-8.2M1760.43 18v8.2M1345.31 388.6v-4.5M1345.31 18v4.5M1359.63 388.6v-4.5M1359.63 18v4.5M1373.94 388.6v-4.5M1373.94 18v4.5M1388.26 388.6v-4.5M1388.26 18v4.5M1402.57 388.6v-8.2M1402.57 18v8.2M1416.89 388.6v-4.5M1416.89 18v4.5M1431.2 388.6v-4.5M1431.2 18v4.5M1445.51 388.6v-4.5M1445.51 18v4.5M1459.83 388.6v-4.5M1459.83 18v4.5M1474.14 388.6v-8.2M1474.14 18v8.2M1488.46 388.6v-4.5M1488.46 18v4.5M1502.77 388.6v-4.5M1502.77 18v4.5M1517.09 388.6v-4.5M1517.09 18v4.5M1531.4 388.6v-4.5M1531.4 18v4.5M1545.71 388.6v-4.5M1545.71 18v4.5M1560.03 388.6v-4.5M1560.03 18v4.5M1574.34 388.6v-4.5M1574.34 18v4.5M1588.66 388.6v-4.5M1588.66 18v4.5M1602.97 388.6v-4.5M1602.97 18v4.5M1617.29 388.6v-8.2M1617.29 18v8.2M1631.6 388.6v-4.5M1631.6 18v4.5M1645.91 388.6v-4.5M1645.91 18v4.5M1660.23 388.6v-4.5M1660.23 18v4.5M1674.54 388.6v-4.5M1674.54 18v4.5M1688.86 388.6v-8.2M1688.86 18v8.2M1703.17 388.6v-4.5M1703.17 18v4.5M1717.49 388.6v-4.5M1717.49 18v4.5M1731.8 388.6v-4.5M1731.8 18v4.5M1746.11 388.6v-4.5M1746.11 18v4.5M1760.43 388.6v-4.5M1760.43 18v4.5M1774.74 388.6v-4.5M1774.74 18v4.5M1789.06 388.6v-4.5M1789.06 18v4.5M1803.37 388.6v-4.5M1803.37 18v4.5M1817.69 388.6v-4.5M1817.69 18v4.5M1331 314.48h8.2M1832 314.48h-8.2M1331 240.36h8.2M1832 240.36h-8.2M1331 166.24h8.2M1832 166.24h-8.2M1331 92.12h8.2M1832 92.12h-8.2M1331 373.78h4.5M1832 373.78h-4.5M1331 358.95h4.5M1832 358.95h-4.5M1331 344.13h4.5M1832 344.13h-4.5M1331 329.3h4.5M1832 329.3h-4.5M1331 314.48h8.2M1832 314.48h-8.2M1331 299.66h4.5M1832 299.66h-4.5M1331 284.83h4.5M1832 284.83h-4.5M1331 270.01h4.5M1832 270.01h-4.5M1331 255.18h4.5M1832 255.18h-4.5M1331 240.36h8.2M1832 240.36h-8.2M1331 225.54h4.5M1832 225.54h-4.5M1331 210.71h4.5M1832 210.71h-4.5M1331 195.89h4.5M1832 195.89h-4.5M1331 181.06h4.5M1832 181.06h-4.5M1331 166.24h8.2M1832 166.24h-8.2M1331 151.42h4.5M1832 151.42h-4.5M1331 136.59h4.5M1832 136.59h-4.5M1331 121.77h4.5M1832 121.77h-4.5M1331 106.94h4.5M1832 106.94h-4.5M1331 92.12h8.2M1832 92.12h-8.2M1331 77.3h4.5M1832 77.3h-4.5M1331 62.47h4.5M1832 62.47h-4.5M1331 47.65h4.5M1832 47.65h-4.5M1331 32.82h4.5M1832 32.82h-4.5" stroke="#231f20" stroke-width="1.6" fill="none"/>
<g clip-path="url(#cc)" fill="none" stroke="#231f20" stroke-width="1.15">
<circle cx="1402.85" cy="388.5" r="3.9"/>
<circle cx="1417.14" cy="360" r="3.9"/>
<circle cx="1431.43" cy="321.2" r="3.9"/>
<circle cx="1445.72" cy="289.7" r="3.9"/>
<circle cx="1460.01" cy="268.4" r="3.9"/>
<circle cx="1474.3" cy="246.9" r="3.9"/>
<circle cx="1488.59" cy="230.1" r="3.9"/>
<circle cx="1502.88" cy="217.7" r="3.9"/>
<circle cx="1517.17" cy="208.6" r="3.9"/>
<circle cx="1531.46" cy="203.2" r="3.9"/>
<circle cx="1545.75" cy="201" r="3.9"/>
<circle cx="1560.04" cy="201" r="3.9"/>
<circle cx="1574.33" cy="203.9" r="3.9"/>
<circle cx="1588.62" cy="208.3" r="3.9"/>
<circle cx="1602.91" cy="214.1" r="3.9"/>
<circle cx="1617.2" cy="221.4" r="3.9"/>
<circle cx="1631.49" cy="230.5" r="3.9"/>
<circle cx="1645.78" cy="242.1" r="3.9"/>
<circle cx="1660.07" cy="257.8" r="3.9"/>
<circle cx="1674.36" cy="274.9" r="3.9"/>
<circle cx="1688.65" cy="293.2" r="3.9"/>
<circle cx="1702.94" cy="311.3" r="3.9"/>
<circle cx="1717.23" cy="330.3" r="3.9"/>
<circle cx="1731.52" cy="347.9" r="3.9"/>
<circle cx="1745.81" cy="364.9" r="3.9"/>
<circle cx="1760.1" cy="383.1" r="3.9"/>
</g>
<g clip-path="url(#cc)" fill="#1f5aa8">
<circle cx="1460.01" cy="388" r="4.3"/>
<circle cx="1474.3" cy="366" r="4.3"/>
<circle cx="1488.59" cy="348.5" r="4.3"/>
<circle cx="1502.88" cy="333.2" r="4.3"/>
<circle cx="1517.17" cy="321.6" r="4.3"/>
<circle cx="1531.46" cy="313.2" r="4.3"/>
<circle cx="1545.75" cy="307.3" r="4.3"/>
<circle cx="1560.04" cy="303" r="4.3"/>
<circle cx="1574.33" cy="301.2" r="4.3"/>
<circle cx="1588.62" cy="301.2" r="4.3"/>
<circle cx="1602.91" cy="303.4" r="4.3"/>
<circle cx="1617.2" cy="307" r="4.3"/>
<circle cx="1631.49" cy="311.4" r="4.3"/>
<circle cx="1645.78" cy="318.7" r="4.3"/>
<circle cx="1660.07" cy="327.8" r="4.3"/>
<circle cx="1674.36" cy="340.5" r="4.3"/>
<circle cx="1688.65" cy="354.4" r="4.3"/>
<circle cx="1702.94" cy="368.5" r="4.3"/>
<circle cx="1717.23" cy="383.1" r="4.3"/>
</g>
<g clip-path="url(#cc)" fill="#ee2d2d" stroke="#231f20" stroke-width="1.15">
<circle cx="1388.56" cy="378.2" r="3.9"/>
<circle cx="1402.85" cy="321.8" r="3.9"/>
<circle cx="1417.14" cy="274.2" r="3.9"/>
<circle cx="1431.43" cy="234.9" r="3.9"/>
<circle cx="1445.72" cy="203.2" r="3.9"/>
<circle cx="1460.01" cy="183.1" r="3.9"/>
<circle cx="1474.3" cy="163.8" r="3.9"/>
<circle cx="1488.59" cy="149.3" r="3.9"/>
<circle cx="1502.88" cy="139.1" r="3.9"/>
<circle cx="1517.17" cy="133.6" r="3.9"/>
<circle cx="1531.46" cy="132.9" r="3.9"/>
<circle cx="1545.75" cy="132.9" r="3.9"/>
<circle cx="1560.04" cy="137.4" r="3.9"/>
<circle cx="1574.33" cy="143.8" r="3.9"/>
<circle cx="1588.62" cy="150.3" r="3.9"/>
<circle cx="1602.91" cy="159.5" r="3.9"/>
<circle cx="1617.2" cy="170.4" r="3.9"/>
<circle cx="1631.49" cy="183.9" r="3.9"/>
<circle cx="1645.78" cy="201.3" r="3.9"/>
<circle cx="1660.07" cy="218.5" r="3.9"/>
<circle cx="1674.36" cy="238.5" r="3.9"/>
<circle cx="1688.65" cy="259.3" r="3.9"/>
<circle cx="1702.94" cy="279.3" r="3.9"/>
<circle cx="1717.23" cy="300.5" r="3.9"/>
<circle cx="1731.52" cy="319.6" r="3.9"/>
<circle cx="1745.81" cy="339.2" r="3.9"/>
<circle cx="1760.1" cy="358.6" r="3.9"/>
<circle cx="1774.39" cy="378" r="3.9"/>
<circle cx="1788.68" cy="389" r="3.9"/>
</g>
<g clip-path="url(#cc)" fill="#00a651" stroke="#231f20" stroke-width="1.15">
<circle cx="1374.27" cy="388.5" r="3.9"/>
<circle cx="1388.56" cy="313.3" r="3.9"/>
<circle cx="1402.85" cy="254.9" r="3.9"/>
<circle cx="1417.14" cy="206.8" r="3.9"/>
<circle cx="1431.43" cy="168.6" r="3.9"/>
<circle cx="1445.72" cy="139.4" r="3.9"/>
<circle cx="1460.01" cy="121.2" r="3.9"/>
<circle cx="1474.3" cy="104.4" r="3.9"/>
<circle cx="1488.59" cy="92.8" r="3.9"/>
<circle cx="1502.88" cy="86.2" r="3.9"/>
<circle cx="1517.17" cy="83" r="3.9"/>
<circle cx="1531.46" cy="84.4" r="3.9"/>
<circle cx="1545.75" cy="88.3" r="3.9"/>
<circle cx="1560.04" cy="94.6" r="3.9"/>
<circle cx="1574.33" cy="103.7" r="3.9"/>
<circle cx="1588.62" cy="112.8" r="3.9"/>
<circle cx="1602.91" cy="123.8" r="3.9"/>
<circle cx="1617.2" cy="137.2" r="3.9"/>
<circle cx="1631.49" cy="153.6" r="3.9"/>
<circle cx="1645.78" cy="174.8" r="3.9"/>
<circle cx="1660.07" cy="193" r="3.9"/>
<circle cx="1674.36" cy="214.8" r="3.9"/>
<circle cx="1688.65" cy="236.7" r="3.9"/>
<circle cx="1702.94" cy="258.6" r="3.9"/>
<circle cx="1717.23" cy="281.3" r="3.9"/>
<circle cx="1731.52" cy="301.6" r="3.9"/>
<circle cx="1745.81" cy="322.4" r="3.9"/>
<circle cx="1760.1" cy="342.4" r="3.9"/>
<circle cx="1774.39" cy="363.6" r="3.9"/>
<circle cx="1788.68" cy="384.4" r="3.9"/>
</g>
<rect x="1331.0" y="18.0" width="501.0" height="370.6" stroke="#231f20" stroke-width="1.8" fill="none"/>
<text x="1256.16" y="27.55" style="font-family:'Liberation Serif', 'Times New Roman', serif;font-size:39.5px;" fill="#231f20" >0.25</text>
<text x="1256.14" y="102.15" style="font-family:'Liberation Serif', 'Times New Roman', serif;font-size:39.5px;" fill="#231f20" >0.20</text>
<text x="1256.16" y="177.15" style="font-family:'Liberation Serif', 'Times New Roman', serif;font-size:39.5px;" fill="#231f20" >0.15</text>
<text x="1256.14" y="253.15" style="font-family:'Liberation Serif', 'Times New Roman', serif;font-size:39.5px;" fill="#231f20" >0.10</text>
<text x="1256.16" y="327.85" style="font-family:'Liberation Serif', 'Times New Roman', serif;font-size:39.5px;" fill="#231f20" >0.05</text>
<text x="1256.14" y="400.05" style="font-family:'Liberation Serif', 'Times New Roman', serif;font-size:39.5px;" fill="#231f20" >0.00</text>
<text x="1372.15" y="419.35" style="font-family:'Liberation Serif', 'Times New Roman', serif;font-size:39.5px;" fill="#231f20" >0.1</text>
<text x="1445.35" y="419.35" style="font-family:'Liberation Serif', 'Times New Roman', serif;font-size:39.5px;" fill="#231f20" >0.2</text>
<text x="1516.73" y="419.35" style="font-family:'Liberation Serif', 'Times New Roman', serif;font-size:39.5px;" fill="#231f20" >0.3</text>
<text x="1588.87" y="419.35" style="font-family:'Liberation Serif', 'Times New Roman', serif;font-size:39.5px;" fill="#231f20" >0.4</text>
<text x="1660.03" y="419.35" style="font-family:'Liberation Serif', 'Times New Roman', serif;font-size:39.5px;" fill="#231f20" >0.5</text>
<text x="1731.95" y="419.35" style="font-family:'Liberation Serif', 'Times New Roman', serif;font-size:39.5px;" fill="#231f20" >0.6</text>
<text x="1801.73" y="419.35" style="font-family:'Liberation Serif', 'Times New Roman', serif;font-size:39.5px;" fill="#231f20" >0.7</text>
<text x="1568.68" y="454.33" style="font-family:'Liberation Serif', 'Times New Roman', serif;font-size:46px;font-style:italic;" fill="#231f20" >w/a</text>
<text transform="translate(1341.2,57.9) scale(0.9935,0.9460)" style="font-family:'Liberation Serif', 'Times New Roman', serif;font-size:45.7px;" fill="#231f20">(c)</text>
<text transform="translate(1454.8,66.52) scale(1.049,1)" style="font-family:'Liberation Serif', 'Times New Roman', serif;font-size:49.48px" fill="#231f20">ε</text>
<text transform="translate(1473.75,69.27) scale(1.119,1)" style="font-family:'Liberation Serif', 'Times New Roman', serif;font-size:45.7px" fill="#231f20">=</text>
<text x="1500.9" y="67" style="font-family:'Liberation Serif', 'Times New Roman', serif;font-size:45.7px" fill="#231f20">15</text>
<text transform="translate(1486.6,181.92) scale(1.049,1)" style="font-family:'Liberation Serif', 'Times New Roman', serif;font-size:49.48px" fill="#231f20">ε</text>
<text transform="translate(1505.55,184.67) scale(1.119,1)" style="font-family:'Liberation Serif', 'Times New Roman', serif;font-size:45.7px" fill="#231f20">=</text>
<text x="1532.7" y="182.4" style="font-family:'Liberation Serif', 'Times New Roman', serif;font-size:45.7px" fill="#231f20">12</text>
<text transform="translate(1506.5,248.82) scale(1.049,1)" style="font-family:'Liberation Serif', 'Times New Roman', serif;font-size:49.48px" fill="#231f20">ε</text>
<text transform="translate(1525.45,251.57) scale(1.119,1)" style="font-family:'Liberation Serif', 'Times New Roman', serif;font-size:45.7px" fill="#231f20">=</text>
<text x="1552.6" y="249.3" style="font-family:'Liberation Serif', 'Times New Roman', serif;font-size:45.7px" fill="#231f20">9</text>
<text transform="translate(1540.9,349.82) scale(1.049,1)" style="font-family:'Liberation Serif', 'Times New Roman', serif;font-size:49.48px" fill="#231f20">ε</text>
<text transform="translate(1559.85,352.57) scale(1.119,1)" style="font-family:'Liberation Serif', 'Times New Roman', serif;font-size:45.7px" fill="#231f20">=</text>
<text x="1587" y="350.3" style="font-family:'Liberation Serif', 'Times New Roman', serif;font-size:45.7px" fill="#231f20">6</text>
<clipPath id="cd"><rect x="122.6" y="472.2" width="500.9" height="370.3"/></clipPath>
<g clip-path="url(#cd)" fill="#231f20">
<circle cx="289.1" cy="842.5" r="3.8"/>
<circle cx="297.45" cy="842.5" r="3.8"/>
<circle cx="305.8" cy="842.5" r="3.8"/>
<circle cx="314.15" cy="842.5" r="3.8"/>
<circle cx="322.5" cy="842.5" r="3.8"/>
<circle cx="330.85" cy="842.5" r="3.8"/>
<circle cx="339.2" cy="842.5" r="3.8"/>
<circle cx="347.55" cy="842.5" r="3.8"/>
<circle cx="355.9" cy="842.5" r="3.8"/>
<circle cx="364.25" cy="842.5" r="3.8"/>
<circle cx="372.6" cy="842.5" r="3.8"/>
<circle cx="380.95" cy="842.5" r="3.8"/>
<circle cx="389.3" cy="842.5" r="3.8"/>
<circle cx="397.65" cy="842.5" r="3.8"/>
<circle cx="406" cy="838.2" r="3.8"/>
<circle cx="414.35" cy="831.6" r="3.8"/>
<circle cx="422.7" cy="825.9" r="3.8"/>
<circle cx="431.05" cy="820.2" r="3.8"/>
<circle cx="439.4" cy="814.5" r="3.8"/>
<circle cx="447.75" cy="809.8" r="3.8"/>
<circle cx="456.1" cy="804.5" r="3.8"/>
<circle cx="464.45" cy="800" r="3.8"/>
<circle cx="472.8" cy="795.6" r="3.8"/>
<circle cx="481.15" cy="791.3" r="3.8"/>
<circle cx="489.5" cy="787.1" r="3.8"/>
<circle cx="497.85" cy="783" r="3.8"/>
<circle cx="506.2" cy="779.6" r="3.8"/>
<circle cx="514.55" cy="775.8" r="3.8"/>
<circle cx="522.9" cy="772.4" r="3.8"/>
<circle cx="531.25" cy="768.8" r="3.8"/>
<circle cx="539.6" cy="765.9" r="3.8"/>
<circle cx="547.95" cy="762.5" r="3.8"/>
<circle cx="556.3" cy="759.7" r="3.8"/>
<circle cx="564.65" cy="756.5" r="3.8"/>
<circle cx="573" cy="754" r="3.8"/>
<circle cx="581.35" cy="751.2" r="3.8"/>
<circle cx="589.7" cy="748.7" r="3.8"/>
<circle cx="598.05" cy="745.9" r="3.8"/>
<circle cx="606.4" cy="743.6" r="3.8"/>
<circle cx="614.75" cy="741.2" r="3.8"/>
<circle cx="623.1" cy="739.3" r="3.8"/>
</g>
<path d="M289.57 842.5v-8.2M289.57 472.2v8.2M456.53 842.5v-8.2M456.53 472.2v8.2M206.08 842.5v-4.5M206.08 472.2v4.5M373.05 842.5v-4.5M373.05 472.2v4.5M540.02 842.5v-4.5M540.02 472.2v4.5M122.6 768.44h8.2M623.5 768.44h-8.2M122.6 694.38h8.2M623.5 694.38h-8.2M122.6 620.32h8.2M623.5 620.32h-8.2M122.6 546.26h8.2M623.5 546.26h-8.2M122.6 805.47h4.5M623.5 805.47h-4.5M122.6 768.44h8.2M623.5 768.44h-8.2M122.6 731.41h4.5M623.5 731.41h-4.5M122.6 694.38h8.2M623.5 694.38h-8.2M122.6 657.35h4.5M623.5 657.35h-4.5M122.6 620.32h8.2M623.5 620.32h-8.2M122.6 583.29h4.5M623.5 583.29h-4.5M122.6 546.26h8.2M623.5 546.26h-8.2M122.6 509.23h4.5M623.5 509.23h-4.5" stroke="#231f20" stroke-width="1.6" fill="none"/>
<rect x="122.6" y="472.2" width="500.9" height="370.3" stroke="#231f20" stroke-width="1.8" fill="none"/>
<text x="44.96" y="486.35" style="font-family:'Liberation Serif', 'Times New Roman', serif;font-size:39.5px;" fill="#231f20" >0.25</text>
<text x="44.94" y="559.75" style="font-family:'Liberation Serif', 'Times New Roman', serif;font-size:39.5px;" fill="#231f20" >0.20</text>
<text x="44.96" y="633.75" style="font-family:'Liberation Serif', 'Times New Roman', serif;font-size:39.5px;" fill="#231f20" >0.15</text>
<text x="44.94" y="707.85" style="font-family:'Liberation Serif', 'Times New Roman', serif;font-size:39.5px;" fill="#231f20" >0.10</text>
<text x="44.96" y="781.95" style="font-family:'Liberation Serif', 'Times New Roman', serif;font-size:39.5px;" fill="#231f20" >0.05</text>
<text x="44.94" y="855.95" style="font-family:'Liberation Serif', 'Times New Roman', serif;font-size:39.5px;" fill="#231f20" >0.00</text>
<text x="114.92" y="871.84" style="font-family:'Liberation Serif', 'Times New Roman', serif;font-size:39.5px;" fill="#231f20" >0</text>
<text x="273.55" y="871.64" style="font-family:'Liberation Serif', 'Times New Roman', serif;font-size:39.5px;" fill="#231f20" >5</text>
<text x="433.77" y="871.84" style="font-family:'Liberation Serif', 'Times New Roman', serif;font-size:39.5px;" fill="#231f20" >10</text>
<text x="600.59" y="871.75" style="font-family:'Liberation Serif', 'Times New Roman', serif;font-size:39.5px;" fill="#231f20" >15</text>
<text transform="translate(364.32,903.07) scale(1.1703,1)" x="0" y="0" style="font-family:'Liberation Serif', 'Times New Roman', serif;font-size:43.87px;" fill="#231f20" >ε</text>
<text transform="translate(31.9,703.87) rotate(-90)" style="font-family:'Liberation Serif', 'Times New Roman', serif;font-size:46.5px" fill="#231f20">Δω/ω<tspan style="font-size:34px" dy="11">0</tspan></text>
<text transform="translate(138.49,512.82) scale(1.0026,0.9436)" style="font-family:'Liberation Serif', 'Times New Roman', serif;font-size:45.7px;" fill="#231f20">(d)</text>
<text transform="translate(241.84,527.16) scale(0.9981,1.0015)" style="font-family:'Liberation Serif', 'Times New Roman', serif;font-size:45.7px;" fill="#231f20">inverted opal</text>
<clipPath id="ce"><rect x="735.4" y="473.0" width="501.0000000000001" height="370.70000000000005"/></clipPath>
<polyline clip-path="url(#ce)" points="768.8,843.7 785.5,843.7 802.2,843.7 818.9,843.7 835.6,843.7 852.3,843.7 869,843.7 885.7,843.7 902.4,822 919.1,794 935.8,769.3 952.5,746.5 969.2,725.8 985.9,707 1002.6,689.8 1019.3,674.5 1036,660.1 1052.7,647.1 1069.4,635.1 1086.1,624.2 1102.8,614.2 1119.5,605 1136.2,596.4 1152.9,588.9 1169.6,581.1 1186.3,574.2 1203,568.1 1219.7,562.2 1236.4,557.1" fill="none" stroke="#231f20" stroke-width="0.9"/>
<g clip-path="url(#ce)" fill="#231f20">
<rect x="765.4" y="840.3" width="6.8" height="6.8"/>
<rect x="782.1" y="840.3" width="6.8" height="6.8"/>
<rect x="798.8" y="840.3" width="6.8" height="6.8"/>
<rect x="815.5" y="840.3" width="6.8" height="6.8"/>
<rect x="832.2" y="840.3" width="6.8" height="6.8"/>
<rect x="848.9" y="840.3" width="6.8" height="6.8"/>
<rect x="865.6" y="840.3" width="6.8" height="6.8"/>
<rect x="882.3" y="840.3" width="6.8" height="6.8"/>
<rect x="899" y="818.6" width="6.8" height="6.8"/>
<rect x="915.7" y="790.6" width="6.8" height="6.8"/>
<rect x="932.4" y="765.9" width="6.8" height="6.8"/>
<rect x="949.1" y="743.1" width="6.8" height="6.8"/>
<rect x="965.8" y="722.4" width="6.8" height="6.8"/>
<rect x="982.5" y="703.6" width="6.8" height="6.8"/>
<rect x="999.2" y="686.4" width="6.8" height="6.8"/>
<rect x="1015.9" y="671.1" width="6.8" height="6.8"/>
<rect x="1032.6" y="656.7" width="6.8" height="6.8"/>
<rect x="1049.3" y="643.7" width="6.8" height="6.8"/>
<rect x="1066" y="631.7" width="6.8" height="6.8"/>
<rect x="1082.7" y="620.8" width="6.8" height="6.8"/>
<rect x="1099.4" y="610.8" width="6.8" height="6.8"/>
<rect x="1116.1" y="601.6" width="6.8" height="6.8"/>
<rect x="1132.8" y="593" width="6.8" height="6.8"/>
<rect x="1149.5" y="585.5" width="6.8" height="6.8"/>
<rect x="1166.2" y="577.7" width="6.8" height="6.8"/>
<rect x="1182.9" y="570.8" width="6.8" height="6.8"/>
<rect x="1199.6" y="564.7" width="6.8" height="6.8"/>
<rect x="1216.3" y="558.8" width="6.8" height="6.8"/>
<rect x="1233" y="553.7" width="6.8" height="6.8"/>
</g>
<path d="M902.4 843.7v-8.2M902.4 473v8.2M1069.4 843.7v-8.2M1069.4 473v8.2M818.9 843.7v-4.5M818.9 473v4.5M985.9 843.7v-4.5M985.9 473v4.5M1152.9 843.7v-4.5M1152.9 473v4.5M735.4 769.56h8.2M1236.4 769.56h-8.2M735.4 695.42h8.2M1236.4 695.42h-8.2M735.4 621.28h8.2M1236.4 621.28h-8.2M735.4 547.14h8.2M1236.4 547.14h-8.2M735.4 806.63h4.5M1236.4 806.63h-4.5M735.4 769.56h8.2M1236.4 769.56h-8.2M735.4 732.49h4.5M1236.4 732.49h-4.5M735.4 695.42h8.2M1236.4 695.42h-8.2M735.4 658.35h4.5M1236.4 658.35h-4.5M735.4 621.28h8.2M1236.4 621.28h-8.2M735.4 584.21h4.5M1236.4 584.21h-4.5M735.4 547.14h8.2M1236.4 547.14h-8.2M735.4 510.07h4.5M1236.4 510.07h-4.5" stroke="#231f20" stroke-width="1.6" fill="none"/>
<rect x="735.4" y="473.0" width="501.0000000000001" height="370.70000000000005" stroke="#231f20" stroke-width="1.8" fill="none"/>
<text x="657.86" y="488.35" style="font-family:'Liberation Serif', 'Times New Roman', serif;font-size:39.5px;" fill="#231f20" >0.25</text>
<text x="657.84" y="561.25" style="font-family:'Liberation Serif', 'Times New Roman', serif;font-size:39.5px;" fill="#231f20" >0.20</text>
<text x="657.86" y="635.15" style="font-family:'Liberation Serif', 'Times New Roman', serif;font-size:39.5px;" fill="#231f20" >0.15</text>
<text x="657.84" y="709.45" style="font-family:'Liberation Serif', 'Times New Roman', serif;font-size:39.5px;" fill="#231f20" >0.10</text>
<text x="657.86" y="783.75" style="font-family:'Liberation Serif', 'Times New Roman', serif;font-size:39.5px;" fill="#231f20" >0.05</text>
<text x="657.84" y="857.55" style="font-family:'Liberation Serif', 'Times New Roman', serif;font-size:39.5px;" fill="#231f20" >0.00</text>
<text x="728.52" y="872.24" style="font-family:'Liberation Serif', 'Times New Roman', serif;font-size:39.5px;" fill="#231f20" >0</text>
<text x="886.45" y="872.04" style="font-family:'Liberation Serif', 'Times New Roman', serif;font-size:39.5px;" fill="#231f20" >5</text>
<text x="1046.97" y="872.24" style="font-family:'Liberation Serif', 'Times New Roman', serif;font-size:39.5px;" fill="#231f20" >10</text>
<text x="1212.89" y="872.15" style="font-family:'Liberation Serif', 'Times New Roman', serif;font-size:39.5px;" fill="#231f20" >15</text>
<text transform="translate(976.35,903.66) scale(1.1757,1)" x="0" y="0" style="font-family:'Liberation Serif', 'Times New Roman', serif;font-size:45.12px;" fill="#231f20" >ε</text>
<text transform="translate(747,513.77) scale(0.9935,0.9388)" style="font-family:'Liberation Serif', 'Times New Roman', serif;font-size:45.7px;" fill="#231f20">(e)</text>
<text transform="translate(882.64,527.15) scale(1.0027,0.9887)" style="font-family:'Liberation Serif', 'Times New Roman', serif;font-size:45.7px;" fill="#231f20">yablonovite</text>
<clipPath id="cf"><rect x="1329.1" y="469.5" width="501.60000000000014" height="370.70000000000005"/></clipPath>
<g clip-path="url(#cf)" fill="#231f20">
<ellipse cx="1364.5" cy="840.2" rx="6.4" ry="4.5"/>
<ellipse cx="1382.3" cy="840.2" rx="6.4" ry="4.5"/>
<ellipse cx="1400.1" cy="840.2" rx="6.4" ry="4.5"/>
<ellipse cx="1417.9" cy="840.2" rx="6.4" ry="4.5"/>
<ellipse cx="1435.7" cy="840.2" rx="6.4" ry="4.5"/>
<ellipse cx="1453.5" cy="840.2" rx="6.4" ry="4.5"/>
<ellipse cx="1471.3" cy="815.8" rx="6.4" ry="4.5"/>
<ellipse cx="1489.1" cy="788.9" rx="6.4" ry="4.5"/>
<ellipse cx="1506.9" cy="765.2" rx="6.4" ry="4.5"/>
<ellipse cx="1524.7" cy="742.2" rx="6.4" ry="4.5"/>
<ellipse cx="1542.5" cy="722.2" rx="6.4" ry="4.5"/>
<ellipse cx="1560.3" cy="703.2" rx="6.4" ry="4.5"/>
<ellipse cx="1578.1" cy="685.8" rx="6.4" ry="4.5"/>
<ellipse cx="1595.9" cy="670.1" rx="6.4" ry="4.5"/>
<ellipse cx="1613.7" cy="654.8" rx="6.4" ry="4.5"/>
<ellipse cx="1631.5" cy="640.9" rx="6.4" ry="4.5"/>
<ellipse cx="1649.3" cy="628.6" rx="6.4" ry="4.5"/>
<ellipse cx="1667.1" cy="616.5" rx="6.4" ry="4.5"/>
<ellipse cx="1684.9" cy="604.5" rx="6.4" ry="4.5"/>
<ellipse cx="1702.7" cy="594" rx="6.4" ry="4.5"/>
<ellipse cx="1720.5" cy="584.5" rx="6.4" ry="4.5"/>
<ellipse cx="1738.3" cy="575.4" rx="6.4" ry="4.5"/>
<ellipse cx="1756.1" cy="566.3" rx="6.4" ry="4.5"/>
<ellipse cx="1773.9" cy="558.3" rx="6.4" ry="4.5"/>
<ellipse cx="1791.7" cy="550.2" rx="6.4" ry="4.5"/>
<ellipse cx="1809.5" cy="542.6" rx="6.4" ry="4.5"/>
<ellipse cx="1827.3" cy="536.4" rx="6.4" ry="4.5"/>
</g>
<path d="M1496.3 840.2v-8.2M1496.3 469.5v8.2M1663.5 840.2v-8.2M1663.5 469.5v8.2M1412.7 840.2v-4.5M1412.7 469.5v4.5M1579.9 840.2v-4.5M1579.9 469.5v4.5M1747.1 840.2v-4.5M1747.1 469.5v4.5M1329.1 766.06h8.2M1830.7 766.06h-8.2M1329.1 691.92h8.2M1830.7 691.92h-8.2M1329.1 617.78h8.2M1830.7 617.78h-8.2M1329.1 543.64h8.2M1830.7 543.64h-8.2M1329.1 803.13h4.5M1830.7 803.13h-4.5M1329.1 766.06h8.2M1830.7 766.06h-8.2M1329.1 728.99h4.5M1830.7 728.99h-4.5M1329.1 691.92h8.2M1830.7 691.92h-8.2M1329.1 654.85h4.5M1830.7 654.85h-4.5M1329.1 617.78h8.2M1830.7 617.78h-8.2M1329.1 580.71h4.5M1830.7 580.71h-4.5M1329.1 543.64h8.2M1830.7 543.64h-8.2M1329.1 506.57h4.5M1830.7 506.57h-4.5" stroke="#231f20" stroke-width="1.6" fill="none"/>
<rect x="1329.1" y="469.5" width="501.60000000000014" height="370.70000000000005" stroke="#231f20" stroke-width="1.8" fill="none"/>
<text x="1252.26" y="484.15" style="font-family:'Liberation Serif', 'Times New Roman', serif;font-size:39.5px;" fill="#231f20" >0.25</text>
<text x="1252.24" y="558.05" style="font-family:'Liberation Serif', 'Times New Roman', serif;font-size:39.5px;" fill="#231f20" >0.20</text>
<text x="1252.26" y="631.15" style="font-family:'Liberation Serif', 'Times New Roman', serif;font-size:39.5px;" fill="#231f20" >0.15</text>
<text x="1252.24" y="705.05" style="font-family:'Liberation Serif', 'Times New Roman', serif;font-size:39.5px;" fill="#231f20" >0.10</text>
<text x="1252.26" y="779.35" style="font-family:'Liberation Serif', 'Times New Roman', serif;font-size:39.5px;" fill="#231f20" >0.05</text>
<text x="1252.24" y="851.65" style="font-family:'Liberation Serif', 'Times New Roman', serif;font-size:39.5px;" fill="#231f20" >0.00</text>
<text x="1322.03" y="869.44" style="font-family:'Liberation Serif', 'Times New Roman', serif;font-size:39.5px;" fill="#231f20" >0</text>
<text x="1480.45" y="869.24" style="font-family:'Liberation Serif', 'Times New Roman', serif;font-size:39.5px;" fill="#231f20" >5</text>
<text x="1640.97" y="869.44" style="font-family:'Liberation Serif', 'Times New Roman', serif;font-size:39.5px;" fill="#231f20" >10</text>
<text x="1807.59" y="869.35" style="font-family:'Liberation Serif', 'Times New Roman', serif;font-size:39.5px;" fill="#231f20" >15</text>
<text transform="translate(1570.42,900.07) scale(1.1648,1)" x="0" y="0" style="font-family:'Liberation Serif', 'Times New Roman', serif;font-size:44.08px;" fill="#231f20" >ε</text>
<text transform="translate(1336.1,512.85) scale(0.9967,0.9402)" style="font-family:'Liberation Serif', 'Times New Roman', serif;font-size:45.7px;" fill="#231f20">(f)</text>
<text transform="translate(1481.86,526.35) scale(0.9997,0.9508)" style="font-family:'Liberation Serif', 'Times New Roman', serif;font-size:45.7px;" fill="#231f20">woodpile</text>
</svg></body></html>
